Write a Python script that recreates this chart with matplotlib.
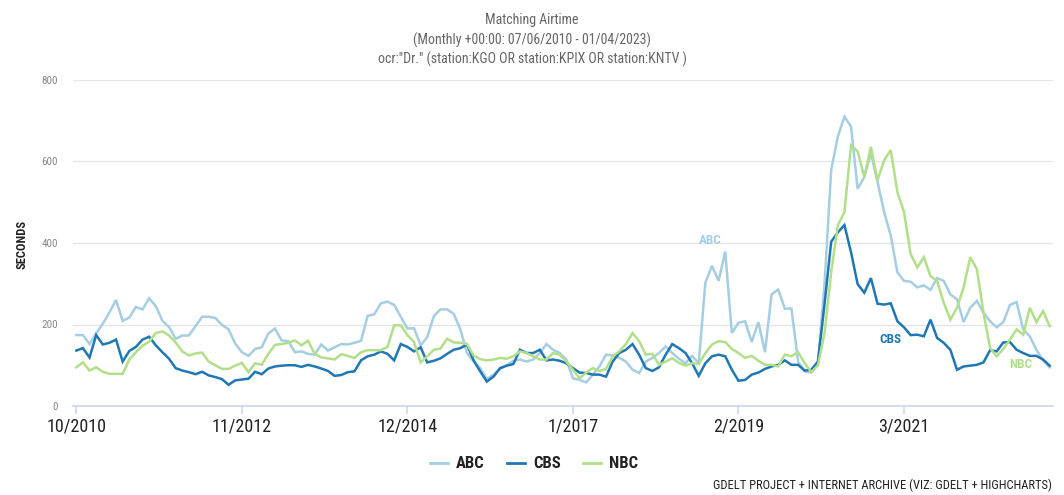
import numpy as np
import pandas as pd
import matplotlib
matplotlib.use("Agg")
import matplotlib.pyplot as plt
from matplotlib.lines import Line2D

COND = ['Roboto Condensed', 'Liberation Sans Narrow', 'DejaVu Sans']
plt.rcParams['font.family'] = COND

# monthly categories, 10/2010 .. 1/2023
months = pd.period_range('2010-10', periods=148, freq='M')
labels = [f"{p.month}/{p.year}" for p in months]

# seconds of matching airtime per month
abc = [174, 174, 152, 178, 202, 230, 260, 209, 217, 243, 237, 264, 245, 209, 194, 165, 173, 173, 196, 219,
       219, 216, 199, 188, 153, 132, 123, 140, 144, 178, 190, 161, 159, 132, 134, 128, 126, 151, 136, 144,
       152, 151, 155, 160, 221, 225, 252, 256, 248, 219, 190, 191, 149, 169, 221, 237, 237, 226, 188, 130,
       109, 93, 66, 77, 91, 100, 111, 114, 109, 114, 130, 152, 138, 130, 114, 68, 64, 58, 77, 97,
       126, 124, 118, 109, 89, 81, 109, 118, 130, 146, 130, 116, 105, 123, 105, 303, 344, 307, 379, 179,
       204, 208, 157, 206, 132, 274, 286, 239, 239, 109, 85, 82, 105, 300, 579, 661, 710, 686, 533, 562,
       620, 550, 476, 418, 328, 307, 305, 291, 296, 285, 314, 307, 274, 262, 206, 241, 258, 229, 208, 193,
       206, 248, 255, 188, 171, 138, 112, 95]
cbs = [136, 142, 119, 174, 151, 155, 163, 109, 135, 145, 163, 170, 149, 132, 116, 93, 87, 83, 78, 84,
       75, 71, 66, 52, 63, 65, 67, 84, 78, 92, 97, 99, 100, 100, 96, 101, 97, 92, 86, 74,
       76, 83, 85, 112, 122, 126, 134, 128, 112, 152, 145, 134, 144, 107, 111, 117, 128, 138, 142, 151,
       112, 85, 60, 72, 93, 99, 103, 138, 130, 130, 138, 112, 114, 111, 105, 93, 82, 81, 77, 77,
       72, 109, 130, 138, 152, 126, 93, 86, 95, 126, 152, 142, 130, 105, 74, 105, 122, 126, 122, 89,
       62, 64, 77, 82, 91, 97, 101, 112, 101, 101, 87, 89, 109, 250, 403, 426, 444, 377, 299, 278,
       314, 251, 249, 252, 208, 193, 174, 175, 171, 212, 167, 155, 138, 89, 97, 99, 101, 107, 137, 134,
       156, 157, 138, 130, 123, 123, 114, 99]
nbc = [95, 107, 87, 95, 84, 79, 79, 79, 114, 132, 148, 158, 179, 183, 173, 156, 134, 124, 129, 131,
       109, 100, 91, 91, 99, 106, 83, 105, 101, 128, 150, 152, 155, 161, 149, 160, 128, 119, 117, 114,
       127, 123, 118, 132, 137, 137, 137, 145, 198, 198, 174, 157, 107, 122, 138, 141, 165, 156, 155, 152,
       124, 115, 112, 114, 118, 116, 122, 134, 130, 122, 114, 114, 130, 126, 109, 89, 68, 82, 93, 86,
       91, 122, 134, 152, 179, 159, 126, 128, 101, 109, 117, 106, 99, 105, 103, 130, 151, 159, 157, 140,
       130, 118, 123, 111, 101, 101, 97, 126, 122, 132, 105, 83, 100, 179, 328, 443, 476, 640, 625, 562,
       636, 554, 603, 628, 525, 476, 373, 340, 365, 319, 307, 253, 212, 241, 291, 365, 336, 229, 142, 122,
       140, 163, 188, 175, 241, 206, 233, 196]

series = ['ABC', 'CBS', 'NBC']
colors = ['#a6cee3', '#1f78b4', '#b2df8a']

fig = plt.figure(figsize=(10.64, 4.95), dpi=100)
ax = fig.add_axes([73/1064, 89/495, 980/1064, 326/495])

x = np.arange(len(labels))
for name, vals, c in zip(series, [abc, cbs, nbc], colors):
    ax.plot(x, vals, color=c, lw=1.8, label=name, solid_joinstyle='miter')

ax.set_xlim(-0.5, len(labels) - 0.5)
ax.set_ylim(0, 800)
ax.set_yticks(range(0, 801, 200))
ax.yaxis.grid(True, color='#e6e6e6', lw=1)
ax.set_axisbelow(True)
for s in ['top', 'right', 'left']:
    ax.spines[s].set_visible(False)
ax.spines['bottom'].set_color('#ccd6eb')
ax.spines['bottom'].set_linewidth(1.2)

tick_pos = list(range(0, len(labels), 25))
ax.set_xticks(tick_pos)
ax.set_xticklabels([labels[i] for i in tick_pos], fontsize=13, color='#222222')
ax.tick_params(axis='x', length=6, width=1.2, color='#ccd6eb', pad=2)
ax.tick_params(axis='y', length=0, pad=11, labelsize=8, labelcolor='#888888')

# series labels
ax.text(95.8, 405, 'ABC', color=colors[0], fontsize=9.5, fontweight='bold', ha='center', va='center')
ax.text(123, 163, 'CBS', color=colors[1], fontsize=9.5, fontweight='bold', ha='center', va='center')
ax.text(142.6, 101, 'NBC', color=colors[2], fontsize=9.5, fontweight='bold', ha='center', va='center')

fig.text(22/1064, 1 - 244/495, 'SECONDS', rotation=90, ha='center', va='center',
         fontsize=9, fontweight='bold', color='#222222')

title_kw = dict(ha='center', va='center', fontsize=10, color='#666666')
fig.text(0.5, 1 - 20/495, 'Matching Airtime', **title_kw)
fig.text(0.5, 1 - 40/495, '(Monthly +00:00: 07/06/2010 - 01/04/2023)', **title_kw)
fig.text(0.5, 1 - 59/495, 'ocr:"Dr." (station:KGO OR station:KPIX OR station:KNTV )', **title_kw)

handles = [Line2D([], [], color=c, lw=2) for c in colors]
leg = fig.legend(handles, series, loc='center', bbox_to_anchor=(534/1064, 1 - 464/495), ncol=3,
                 frameon=False, handlelength=1.1, columnspacing=1.3, handletextpad=0.5,
                 prop={'family': COND, 'size': 12, 'weight': 'bold'})
for t in leg.get_texts():
    t.set_color('#222222')

fig.text(1052/1064, 1 - 485/495, 'GDELT PROJECT + INTERNET ARCHIVE (VIZ: GDELT + HIGHCHARTS)',
         ha='right', va='center', fontsize=9, color='#222222')

fig.savefig('out.png', dpi=100)
